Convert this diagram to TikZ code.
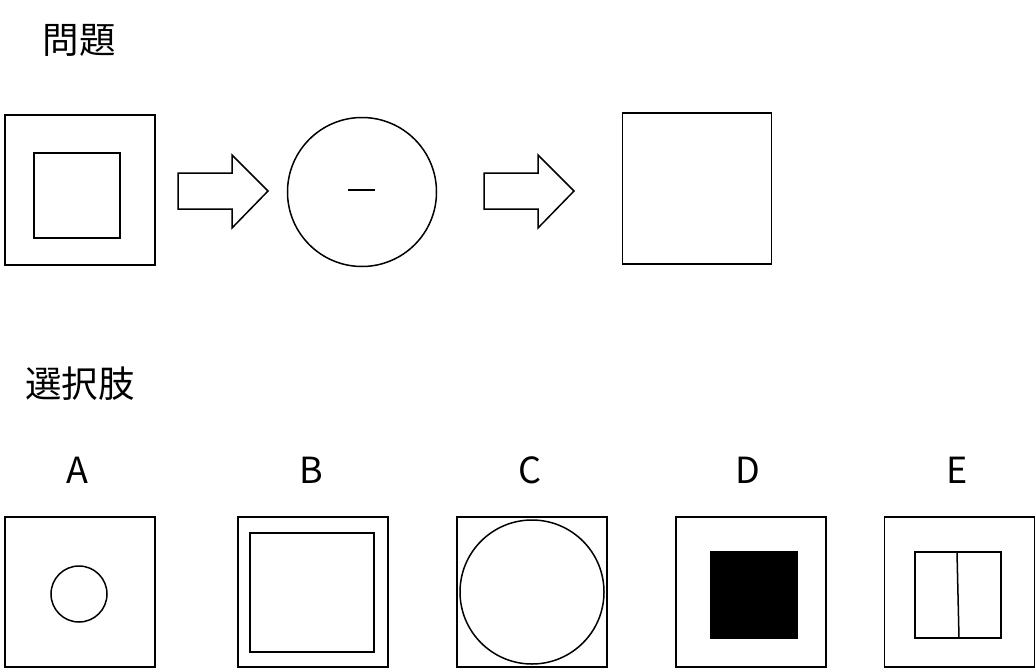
\documentclass[tikz,border=0pt]{standalone}
\usepackage{fontspec}
\setmainfont{Noto Sans CJK JP}
\begin{document}
\begin{tikzpicture}[x=1pt,y=-1pt,line width=1.5pt,
				every node/.style={inner sep=0pt,outer sep=0pt},
				box/.style={draw,rectangle,minimum size=150pt},
				inbox/.style={draw,rectangle,minimum size=86pt},
				ring/.style={draw,circle},
				title/.style={font=\fontsize{36.5}{36.5}\selectfont},
				letter/.style={font=\fontsize{36}{36}\selectfont}]
\useasboundingbox (0,0) rectangle (1036,669);
\node[title] (q) at (79,40) {問題};
\node[box] (q1) at (80,190) {};
\node[draw,rectangle,minimum width=86pt,minimum height=85pt] (q1in) at (77,195.5) {};
\node[ring,minimum size=149pt] (q2) at (362,192) {};
\draw (348,190) -- (375,190);
\node[box,minimum width=149pt,minimum height=151pt] (q3) at (697,188.5) {};
% block arrows
\foreach \dx in {0,306}
	\draw[line join=miter] (178+\dx,173) -- (232+\dx,173) -- (232+\dx,155) -- (268+\dx,191)
		-- (232+\dx,228) -- (232+\dx,209) -- (178+\dx,209) -- cycle;
\node[title] (c) at (80,384) {選択肢};
\node[letter] (la) at (77,470) {A};
\node[letter] (lb) at (311,470) {B};
\node[letter] (lc) at (530,470) {C};
\node[letter] (ld) at (748,470) {D};
\node[letter] (le) at (957,470) {E};
\node[box] (a) at (80,592) {};
\node[ring,minimum size=56pt] (ain) at (79,594) {};
\node[box] (b) at (313,592) {};
\node[draw,rectangle,minimum width=124pt,minimum height=119pt] (bin) at (312,592.5) {};
\node[box] (cc) at (532,592) {};
\node[ring,minimum size=144pt] (cin) at (532,592) {};
\node[box] (d) at (751,592) {};
\node[draw,fill=black,minimum width=86pt,minimum height=86pt] (din) at (754,595) {};
\node[box] (e) at (959.5,592) {};
\node[draw,minimum width=86pt,minimum height=86pt] (ein) at (958,595) {};
\draw (957,552) -- (959,638);
\end{tikzpicture}
\end{document}
